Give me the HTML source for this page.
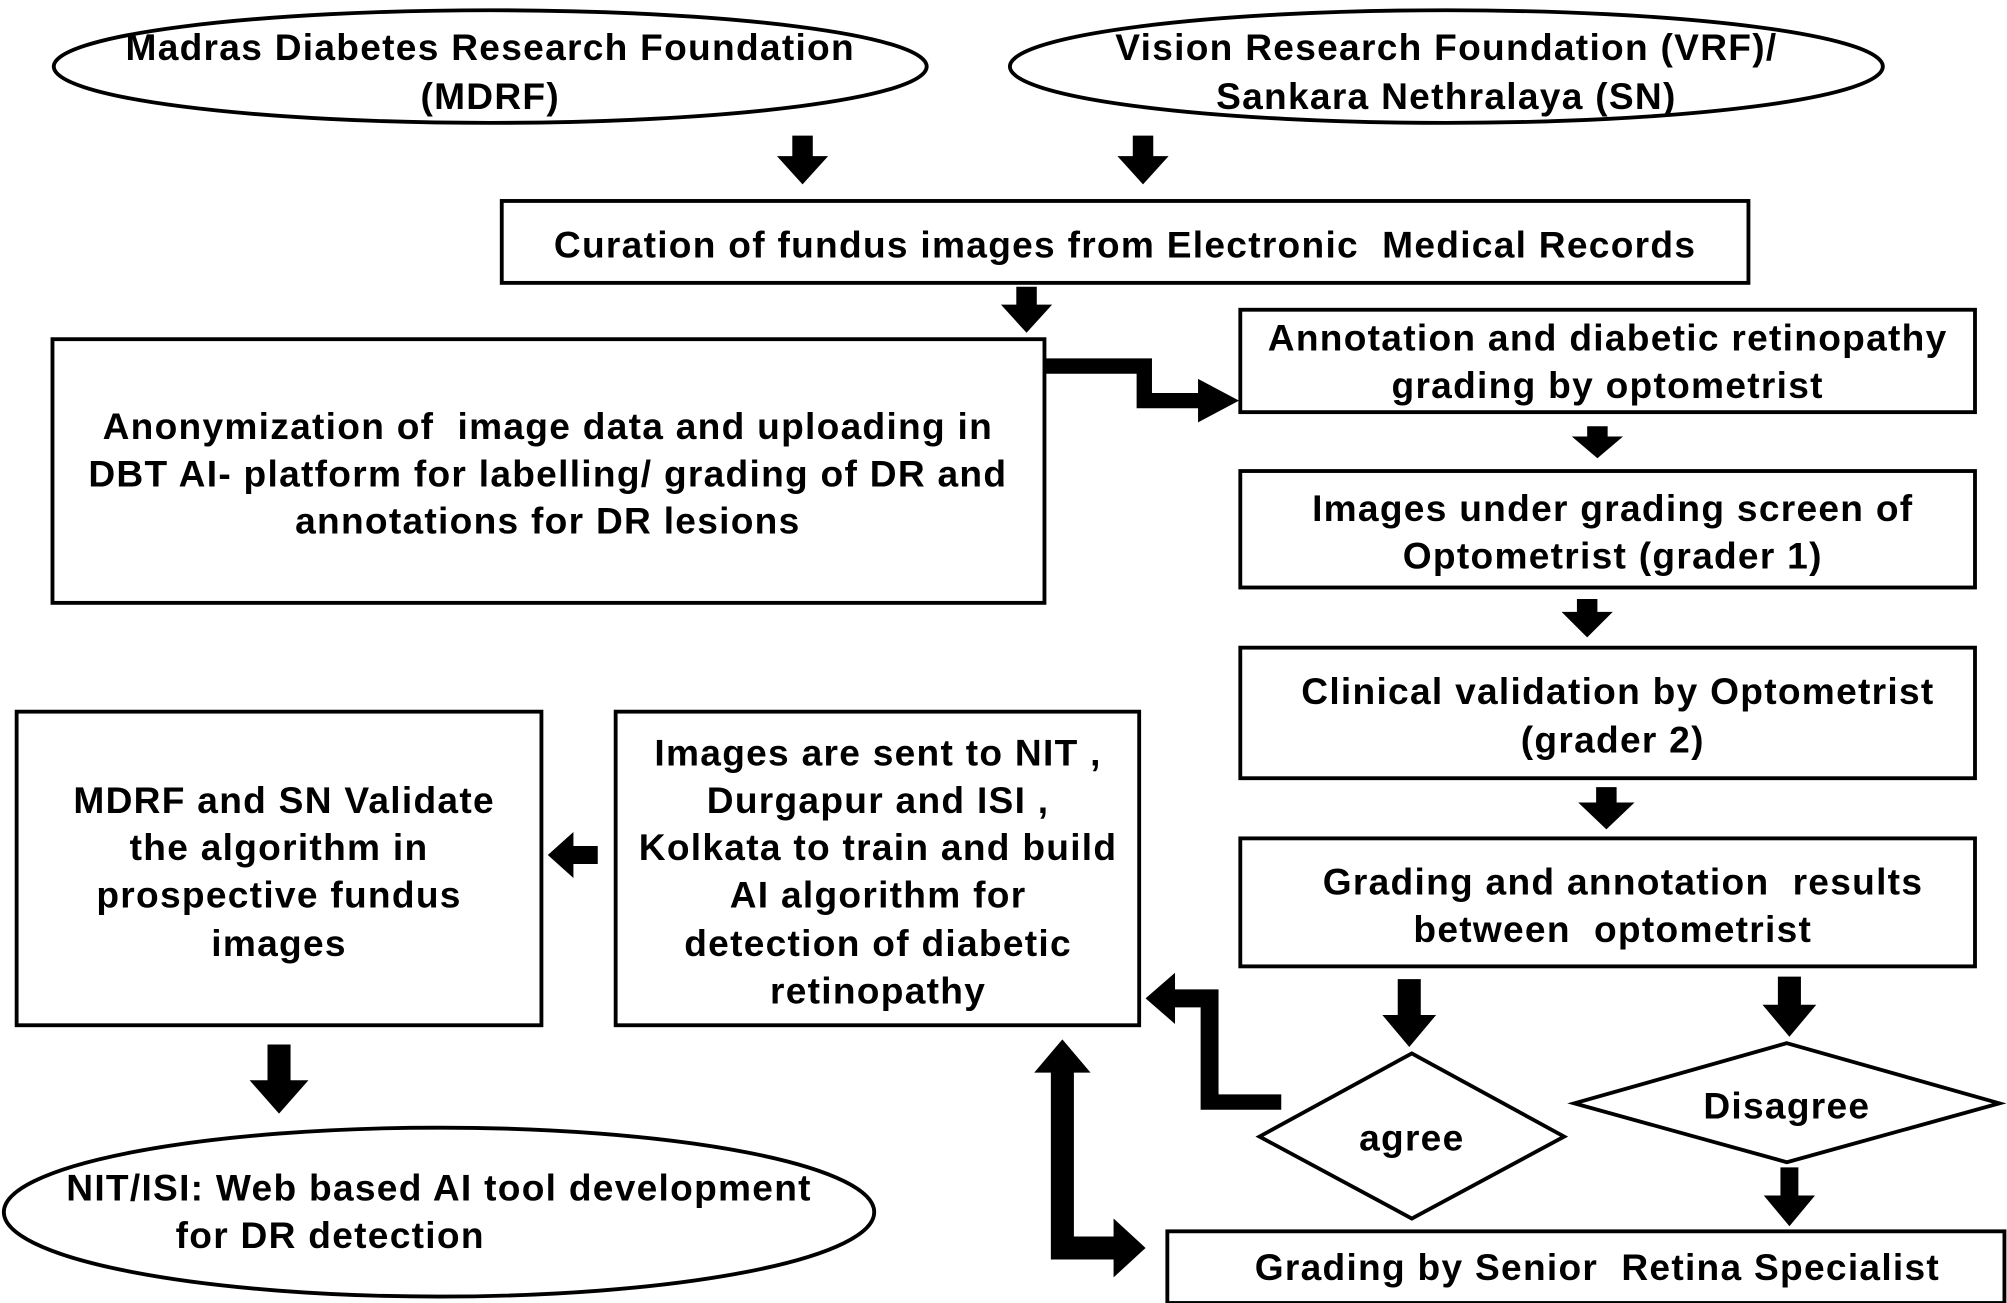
<!DOCTYPE html>
<html><head><meta charset="utf-8"><style>
html,body{margin:0;padding:0;background:#fff;}
svg{display:block;}
text{font-family:"Liberation Sans",Arial,sans-serif;font-weight:bold;font-size:29px;letter-spacing:1px;fill:#000;text-anchor:middle;white-space:pre;}
</style></head><body>
<svg width="2007" height="1303" viewBox="0 0 1568 1018" preserveAspectRatio="none" xmlns="http://www.w3.org/2000/svg" xml:space="preserve">
<g fill="#fff" stroke="#000" stroke-width="3">
<ellipse cx="383" cy="52" rx="341" ry="44"/>
<ellipse cx="1130" cy="52" rx="341" ry="44"/>
<rect x="392" y="157" width="974" height="64"/>
<rect x="41" y="265" width="775" height="206"/>
<rect x="969" y="242" width="574" height="80"/>
<rect x="969" y="368" width="574" height="91"/>
<rect x="969" y="506" width="574" height="102"/>
<rect x="969" y="655" width="574" height="100"/>
<polygon points="1103,823 1222,888 1103,952 984,888"/>
<polygon points="1396,815 1562,862 1396,908 1230,862"/>
<rect x="912" y="962" width="654" height="56"/>
<rect x="481" y="556" width="409" height="245"/>
<rect x="13" y="556" width="410" height="245"/>
<ellipse cx="343" cy="947" rx="340" ry="66"/>
</g>
<g fill="#000">
<g transform="translate(627,106)"><path d="M-8,0 H8 V16 H20 L0,38 L-20,16 H-8 Z"/></g>
<g transform="translate(893,106)"><path d="M-8,0 H8 V16 H20 L0,38 L-20,16 H-8 Z"/></g>
<g transform="translate(802,224)"><path d="M-8,0 H8 V14 H20 L0,36 L-20,14 H-8 Z"/></g>
<g transform="translate(1248,333)"><path d="M-8,0 H8 V8 H20 L0,25 L-20,8 H-8 Z"/></g>
<g transform="translate(1240,468)"><path d="M-8,0 H8 V10 H20 L0,30 L-20,10 H-8 Z"/></g>
<g transform="translate(1255,615)"><path d="M-8,0 H8 V12 H22 L0,33 L-22,12 H-8 Z"/></g>
<g transform="translate(1101,765)"><path d="M-9,0 H9 V28 H21 L0,53 L-21,28 H-9 Z"/></g>
<g transform="translate(1398,763)"><path d="M-9,0 H9 V22 H21 L0,47 L-21,22 H-9 Z"/></g>
<g transform="translate(1398,912)"><path d="M-7,0 H7 V22 H20 L0,46 L-20,22 H-7 Z"/></g>
<g transform="translate(218,816)"><path d="M-9,0 H9 V28 H23 L0,54 L-23,28 H-9 Z"/></g>
<path d="M816,280 H900 V307 H936 V296 L968,313 L936,330 V319 H888 V292 H816 Z"/>
<path d="M467,661 H448 V650 L428,668 L448,686 V675 H467 Z"/>
<path d="M1001,855 V867 H938 V787 H918 V800 L895,780 L918,760 V773 H952 V855 Z"/>
<path d="M830,812 L852,838 H839 V966 H870 V952 L895,975 L870,998 V984 H821 V838 H808 Z"/>
</g>
<text x="383" y="47">Madras Diabetes Research Foundation</text>
<text x="383" y="85">(MDRF)</text>
<text x="1130" y="47">Vision Research Foundation (VRF)/</text>
<text x="1130" y="85">Sankara Nethralaya (SN)</text>
<text x="879" y="201">Curation of fundus images from Electronic  Medical Records</text>
<text x="428" y="343">Anonymization of  image data and uploading in</text>
<text x="428" y="380">DBT AI- platform for labelling/ grading of DR and</text>
<text x="428" y="417">annotations for DR lesions</text>
<text x="1256" y="274">Annotation and diabetic retinopathy</text>
<text x="1256" y="311">grading by optometrist</text>
<text x="1260" y="407">Images under grading screen of</text>
<text x="1260" y="444">Optometrist (grader 1)</text>
<text x="1264" y="550">Clinical validation by Optometrist</text>
<text x="1260" y="588">(grader 2)</text>
<text x="1268" y="699">Grading and annotation  results</text>
<text x="1260" y="736">between  optometrist</text>
<text x="1103" y="899">agree</text>
<text x="1396" y="874">Disagree</text>
<text x="1248" y="1000">Grading by Senior  Retina Specialist</text>
<text x="686" y="598">Images are sent to NIT ,</text>
<text x="686" y="635">Durgapur and ISI ,</text>
<text x="686" y="672">Kolkata to train and build</text>
<text x="686" y="709">AI algorithm for</text>
<text x="686" y="747">detection of diabetic</text>
<text x="686" y="784">retinopathy</text>
<text x="222" y="635">MDRF and SN Validate</text>
<text x="218" y="672">the algorithm in</text>
<text x="218" y="709">prospective fundus</text>
<text x="218" y="747">images</text>
<text x="343" y="938">NIT/ISI: Web based AI tool development</text>
<text x="258" y="975">for DR detection</text>
</svg>
</body></html>
